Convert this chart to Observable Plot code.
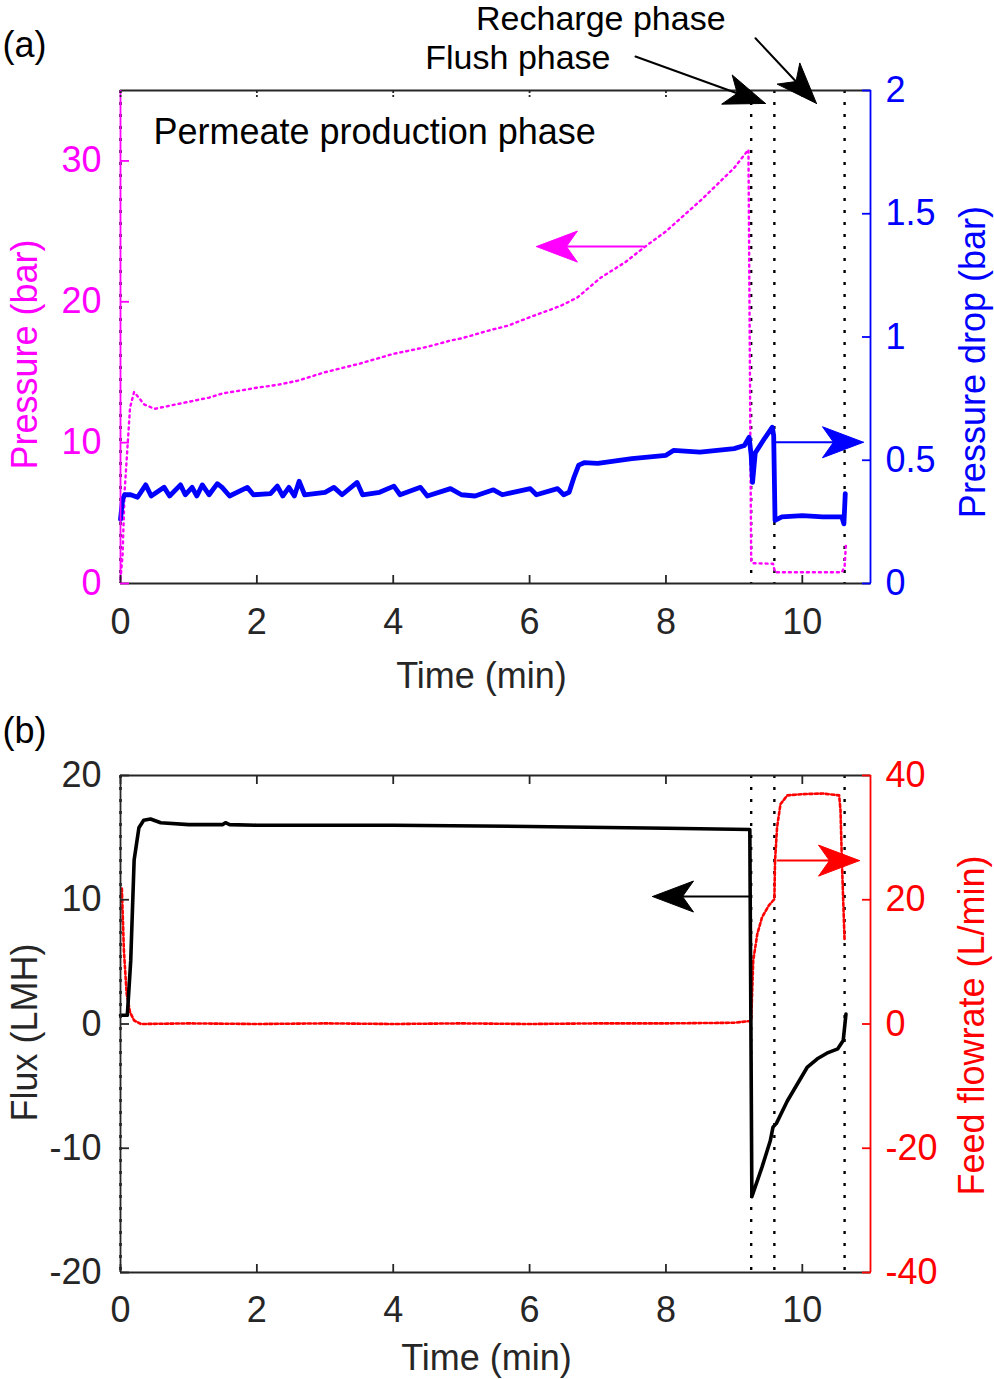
<!DOCTYPE html>
<html>
<head>
<meta charset="utf-8">
<script src="https://cdn.jsdelivr.net/npm/d3@7"></script>
<script src="https://cdn.jsdelivr.net/npm/@observablehq/plot@0.6"></script>
<style>
  html, body { margin: 0; padding: 0; background: #fff; }
  #chart { position: relative; width: 994px; height: 1379px; overflow: hidden; }
</style>
</head>
<body>
<div id="chart"></div>
<script>
// ---------- data ----------
const xTicks = [0, 2, 4, 6, 8, 10];
const pressureTicks = [0, 10, 20, 30];
const dropTicks = [0, 0.5, 1, 1.5, 2];
const fluxTicks = [-20, -10, 0, 10, 20];
const flowTicks = [-40, -20, 0, 20, 40];
const phaseTimes = [0, 9.25, 9.59, 10.62];

const xDomain = [0, 11];
const pressureDomain = [0, 35];
const dropDomain = [0, 2];
const fluxDomain = [-20, 20];
const flowDomain = [-40, 40];

// Panel (a): feed pressure (bar)
const pressureTime = [0, 0.03, 0.06, 0.10, 0.14, 0.20, 0.25, 0.35, 0.50, 0.70, 1.0, 1.3, 1.5, 1.76, 2.0, 2.3, 2.6, 3.0, 3.5, 4.0, 4.5, 4.84, 5.0, 5.43, 5.68, 6.0, 6.45, 6.7, 7.04, 7.4, 7.69, 8.0, 8.51, 9.0, 9.21, 9.25, 9.27, 9.57, 9.60, 10.58, 10.62, 10.64];
const pressureBar  = [0.3, 2, 6.5, 9.5, 12.5, 13.6, 13.3, 12.7, 12.4, 12.6, 12.9, 13.2, 13.5, 13.7, 13.9, 14.1, 14.4, 15.0, 15.6, 16.3, 16.8, 17.25, 17.4, 18.0, 18.3, 18.9, 19.7, 20.3, 21.7, 22.8, 23.9, 25.0, 27.2, 29.5, 30.8, 1.6, 1.44, 1.4, 0.8, 0.8, 1.2, 2.8];

// Panel (a): pressure drop (bar)
const dropTime = [0, 0.03, 0.06, 0.15, 0.25, 0.37, 0.45, 0.64, 0.72, 0.88, 0.95, 1.05, 1.12, 1.2, 1.3, 1.42, 1.49, 1.6, 1.86, 1.95, 2.2, 2.30, 2.38, 2.47, 2.55, 2.62, 2.7, 3.0, 3.13, 3.25, 3.47, 3.55, 3.8, 4.01, 4.1, 4.4, 4.5, 4.84, 5.0, 5.2, 5.47, 5.6, 6.01, 6.1, 6.41, 6.5, 6.58, 6.65, 6.72, 6.8, 7.0, 7.5, 8.0, 8.11, 8.5, 9.0, 9.15, 9.22, 9.25, 9.27, 9.31, 9.45, 9.56, 9.58, 9.60, 9.7, 10.0, 10.3, 10.58, 10.61, 10.63];
const dropBar  = [0.26, 0.34, 0.36, 0.36, 0.35, 0.40, 0.355, 0.39, 0.355, 0.40, 0.36, 0.39, 0.355, 0.40, 0.36, 0.405, 0.39, 0.355, 0.39, 0.36, 0.365, 0.395, 0.355, 0.39, 0.355, 0.415, 0.36, 0.37, 0.39, 0.36, 0.41, 0.36, 0.37, 0.395, 0.36, 0.39, 0.355, 0.385, 0.36, 0.355, 0.38, 0.36, 0.385, 0.36, 0.385, 0.36, 0.37, 0.43, 0.48, 0.49, 0.487, 0.507, 0.52, 0.54, 0.533, 0.547, 0.56, 0.593, 0.52, 0.41, 0.53, 0.59, 0.634, 0.60, 0.256, 0.27, 0.275, 0.27, 0.27, 0.242, 0.365];

// Panel (b): flux (LMH)
const fluxTime = [0, 0.1, 0.15, 0.2, 0.27, 0.34, 0.44, 0.59, 1.0, 1.5, 1.54, 1.6, 2.0, 4.0, 6.0, 8.0, 9.23, 9.26, 9.41, 9.53, 9.57, 9.62, 9.78, 10.07, 10.22, 10.36, 10.52, 10.6, 10.64];
const fluxLMH  = [0.7, 0.7, 5.1, 13.2, 15.8, 16.4, 16.5, 16.2, 16.05, 16.05, 16.2, 16.05, 16.0, 16.0, 15.9, 15.75, 15.65, -13.9, -11.5, -9.4, -8.3, -8.0, -6.2, -3.5, -2.8, -2.35, -2.0, -1.33, 0.8];

// Panel (b): feed flowrate (L/min)
const flowTime = [0.02, 0.05, 0.09, 0.14, 0.2, 0.3, 1, 2, 3, 4, 5, 6, 7, 8, 9, 9.25, 9.28, 9.34, 9.41, 9.51, 9.59, 9.60, 9.63, 9.68, 9.78, 10.0, 10.3, 10.54, 10.56, 10.58, 10.62];
const flowLmin = [21.8, 11.8, 4.9, 1.9, 0.56, 0.0, 0.1, 0.0, 0.1, 0.0, 0.1, 0.0, 0.1, 0.1, 0.2, 0.5, 10.2, 14.5, 17.2, 19.1, 20.1, 26.3, 31.7, 35.4, 36.8, 37.0, 37.1, 36.8, 34.4, 26.3, 13.4];

// annotations
const phaseLabels = ["Recharge phase", "Flush phase", "Permeate production phase"];

// ---------- style / layout ----------
const INK = "#262626", MAGENTA = "#ff00ff", BLUE = "#0000ff", RED = "#ff0000";
const FONT = "'Liberation Sans', Arial, Helvetica, sans-serif";
const W = 994, ML = 120, MR = 124;
const HA = 700, MTA = 90, MBA = 117;
const HB = 679, MTB = 75, MBB = 107;
const kA = pressureDomain[1] / dropDomain[1];   // drop -> pressure units
const kB = fluxDomain[1] / flowDomain[1];       // flow -> flux units

const fmt = v => String(+v.toFixed(3));   // plain hyphen-minus, as in the original

function arrowMarks(list, xs, ys) {
  const L = 41, HW = 15.5, B = 30;
  const out = [];
  for (const a of list) {
    const p1 = [xs(a.x1), ys(a.y1)], p2 = [xs(a.x2), ys(a.y2)];
    const dx = p2[0] - p1[0], dy = p2[1] - p1[1], len = Math.hypot(dx, dy);
    const ux = dx / len, uy = dy / len, nx = -uy, ny = ux;
    const back = [p2[0] - B * ux, p2[1] - B * uy];
    const pts = [p2,
      [p2[0] - L * ux + HW * nx, p2[1] - L * uy + HW * ny],
      back,
      [p2[0] - L * ux - HW * nx, p2[1] - L * uy - HW * ny],
      p2].map(([px, py]) => ({x: xs.invert(px), y: ys.invert(py)}));
    out.push(Plot.line([{x: a.x1, y: a.y1}, {x: xs.invert(back[0] + ux * 2), y: ys.invert(back[1] + uy * 2)}],
      {x: "x", y: "y", stroke: a.color, strokeWidth: 2}));
    out.push(Plot.line(pts, {x: "x", y: "y", fill: a.color, stroke: a.color, strokeWidth: 1, strokeLinejoin: "miter"}));
  }
  return out;
}

const xs = d3.scaleLinear(xDomain, [ML, W - MR]);

const DOTS = {stroke: "#000", strokeWidth: 2.4, strokeDasharray: "3,9"};

// ---------- panel (a) ----------
const ysA = d3.scaleLinear(pressureDomain, [HA - MBA, MTA]);
const pressure = pressureTime.map((t, i) => ({t, v: pressureBar[i]}));
const drop = dropTime.map((t, i) => ({t, v: dropBar[i] * kA}));
const arrowsA = [
  {x1: 7.67, y1: 23.92, x2: 6.10, y2: 23.92, color: MAGENTA},
  {x1: 9.607, y1: 0.573 * kA, x2: 10.897, y2: 0.573 * kA, color: BLUE},
  {x1: 7.553, y1: 37.41, x2: 9.46, y2: 34.08, color: "#000"},
  {x1: 9.313, y1: 38.71, x2: 10.208, y2: 34.08, color: "#000"}
];

const plotA = Plot.plot({
  width: W, height: HA,
  marginLeft: ML, marginRight: MR, marginTop: MTA, marginBottom: MBA,
  style: {fontFamily: FONT, fontSize: "36px", color: INK, background: "transparent", overflow: "visible"},
  x: {domain: xDomain},
  y: {domain: pressureDomain},
  marks: [
    Plot.ruleX(phaseTimes, DOTS),
    Plot.line(pressure, {x: "t", y: "v", stroke: MAGENTA, strokeWidth: 2.4, strokeDasharray: "2,4"}),
    Plot.line(drop, {x: "t", y: "v", stroke: BLUE, strokeWidth: 4.8, strokeLinejoin: "round"}),
    // box
    Plot.ruleY(pressureDomain, {stroke: INK, strokeWidth: 1.8}),
    Plot.ruleX([xDomain[0]], {stroke: MAGENTA, strokeWidth: 1.8}),
    Plot.ruleX([xDomain[1]], {stroke: BLUE, strokeWidth: 1.8}),
    // axes
    Plot.axisX(xTicks, {anchor: "bottom", tickSize: -8, fill: "none", stroke: INK, strokeWidth: 1.8}),
    Plot.axisX(xTicks, {anchor: "top", tickSize: -8, fill: "none", stroke: INK, strokeWidth: 1.8, strokeDasharray: "2,2"}),
    Plot.axisX(xTicks, {anchor: "bottom", tickSize: 0, tickPadding: 25, label: null, color: INK, tickFormat: fmt}),
    Plot.axisY(pressureTicks, {anchor: "left", tickSize: -9, fill: "none", stroke: MAGENTA, strokeWidth: 1.8}),
    Plot.axisY(pressureTicks, {anchor: "left", tickSize: 0, tickPadding: 19, label: null, color: MAGENTA, tickFormat: fmt}),
    Plot.axisY(dropTicks.map(d => d * kA), {anchor: "right", tickSize: -9, fill: "none", stroke: BLUE, strokeWidth: 1.8}),
    Plot.axisY(dropTicks.map(d => d * kA), {anchor: "right", tickSize: 0, tickPadding: 15, label: null, color: BLUE, tickFormat: v => fmt(v / kA)}),
    // arrows
    ...arrowMarks(arrowsA, xs, ysA),
    // texts
    Plot.text(["(a)"], {x: -1.73, y: 38.2, text: d => d, textAnchor: "start", fill: "#000"}),
    Plot.text([phaseLabels[0]], {x: 8.874, y: 40.04, text: d => d, textAnchor: "end", fill: "#000", fontSize: 34}),
    Plot.text([phaseLabels[1]], {x: 7.187, y: 37.3, text: d => d, textAnchor: "end", fill: "#000", fontSize: 34}),
    Plot.text([phaseLabels[2]], {x: 0.484, y: 32.0, text: d => d, textAnchor: "start", fill: "#000"}),
    Plot.text(["Pressure (bar)"], {x: -1.393, y: 16.26, text: d => d, rotate: -90, fill: MAGENTA}),
    Plot.text(["Pressure drop (bar)"], {x: 12.51, y: 15.72, text: d => d, rotate: -90, fill: BLUE}),
    Plot.text(["Time (min)"], {x: 5.295, y: -6.6, text: d => d, fill: INK})
  ]
});

// ---------- panel (b) ----------
const ysB = d3.scaleLinear(fluxDomain, [HB - MBB, MTB]);
const flux = fluxTime.map((t, i) => ({t, v: fluxLMH[i]}));
const flow = flowTime.map((t, i) => ({t, v: flowLmin[i] * kB}));
const arrowsB = [
  {x1: 9.24, y1: 10.26, x2: 7.803, y2: 10.26, color: "#000"},
  {x1: 9.636, y1: 26.3 * kB, x2: 10.839, y2: 26.3 * kB, color: RED}
];

const plotB = Plot.plot({
  width: W, height: HB,
  marginLeft: ML, marginRight: MR, marginTop: MTB, marginBottom: MBB,
  style: {fontFamily: FONT, fontSize: "36px", color: INK, background: "transparent", overflow: "visible"},
  x: {domain: xDomain},
  y: {domain: fluxDomain},
  marks: [
    Plot.ruleX(phaseTimes, DOTS),
    Plot.line(flow, {x: "t", y: "v", stroke: RED, strokeWidth: 2.6, strokeDasharray: "3,2.5"}),
    Plot.line(flux, {x: "t", y: "v", stroke: "#000", strokeWidth: 3.6, strokeLinejoin: "round"}),
    // box
    Plot.ruleY(fluxDomain, {stroke: INK, strokeWidth: 1.8}),
    Plot.ruleX([xDomain[0]], {stroke: INK, strokeWidth: 1.8}),
    Plot.ruleX([xDomain[1]], {stroke: RED, strokeWidth: 1.8}),
    // axes
    Plot.axisX(xTicks, {anchor: "bottom", tickSize: -8, fill: "none", stroke: INK, strokeWidth: 1.8}),
    Plot.axisX(xTicks, {anchor: "top", tickSize: -8, fill: "none", stroke: INK, strokeWidth: 1.8}),
    Plot.axisX(xTicks, {anchor: "bottom", tickSize: 0, tickPadding: 24, label: null, color: INK, tickFormat: fmt}),
    Plot.axisY(fluxTicks, {anchor: "left", tickSize: -9, fill: "none", stroke: INK, strokeWidth: 1.8}),
    Plot.axisY(fluxTicks, {anchor: "left", tickSize: 0, tickPadding: 19, label: null, color: INK, tickFormat: fmt}),
    Plot.axisY(flowTicks.map(d => d * kB), {anchor: "right", tickSize: -9, fill: "none", stroke: RED, strokeWidth: 1.8}),
    Plot.axisY(flowTicks.map(d => d * kB), {anchor: "right", tickSize: 0, tickPadding: 15, label: null, color: RED, tickFormat: v => fmt(v / kB)}),
    // arrows
    ...arrowMarks(arrowsB, xs, ysB),
    // texts
    Plot.text(["(b)"], {x: -1.73, y: 23.54, text: d => d, textAnchor: "start", fill: "#000"}),
    Plot.text(["Flux (LMH)"], {x: -1.393, y: -0.68, text: d => d, rotate: -90, fill: INK}),
    Plot.text(["Feed flowrate (L/min)"], {x: 12.50, y: -0.12, text: d => d, rotate: -90, fill: RED}),
    Plot.text(["Time (min)"], {x: 5.368, y: -26.92, text: d => d, fill: INK})
  ]
});

const chart = document.getElementById("chart");
plotA.style.position = "absolute";
plotB.style.position = "absolute";
plotA.style.left = "0px";
plotB.style.left = "0px";
plotA.style.top = "0px";
plotB.style.top = HA + "px";
chart.appendChild(plotA);
chart.appendChild(plotB);
</script>
</body>
</html>
